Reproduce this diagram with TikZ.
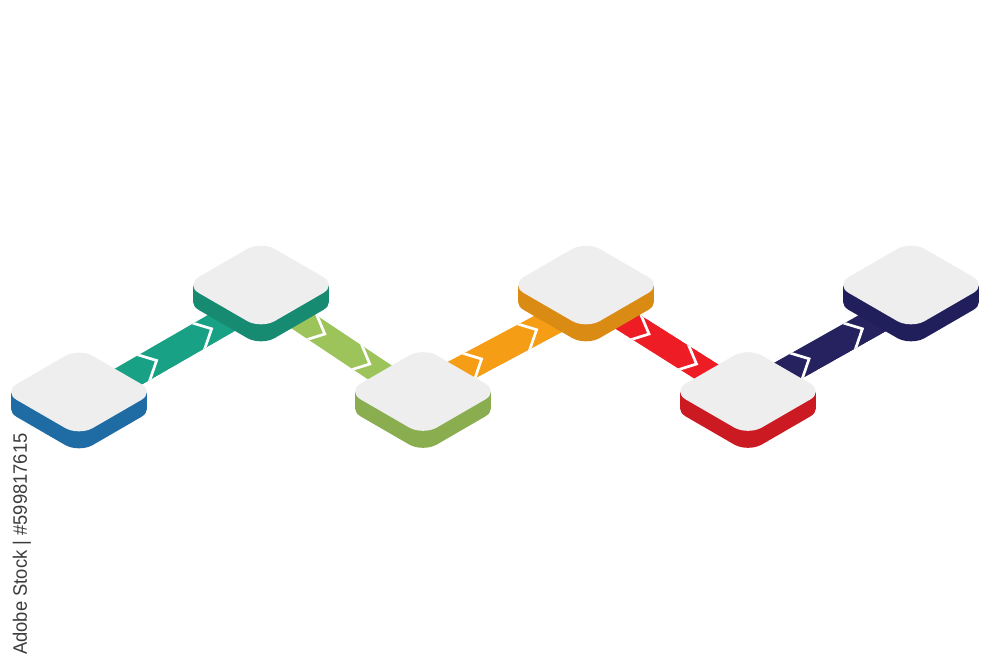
\documentclass[tikz,border=0pt]{standalone}
\usepackage{fontspec}
\usepackage{graphicx}
\setmainfont{Liberation Sans}
\usetikzlibrary{calc}
\definecolor{topF}{HTML}{EEEEEE}
\definecolor{blueS}{HTML}{1F6CA5}
\definecolor{tealB}{HTML}{19A185}
\definecolor{tealS}{HTML}{168B72}
\definecolor{greenB}{HTML}{9DC35B}
\definecolor{greenS}{HTML}{89AD4F}
\definecolor{orangeB}{HTML}{F59D15}
\definecolor{orangeS}{HTML}{DA8B13}
\definecolor{redB}{HTML}{EE1D25}
\definecolor{redS}{HTML}{CC1A22}
\definecolor{navyB}{HTML}{25225F}
\definecolor{navyS}{HTML}{211E5C}
\definecolor{stampgray}{HTML}{3C3C3C}
\tikzset{
  tileside/.style={fill=#1, draw=none, rounded corners=0.48cm},
  tiletop/.style={fill=topF, draw=none, rounded corners=0.48cm},
  bandbody/.style={fill=#1, draw=none},
  chev/.style={draw=white, line width=2.3pt, miter limit=10},
  stamp/.style={font=\fontsize{16.6}{17}\selectfont, text=stampgray, rotate=90, inner sep=0pt}
}
\newcommand\isotile[2]{%
  \foreach \k in {2,...,17}{%
    \fill[tileside=#2] ($(#1)+(0,\k-44)$) -- ++(76,44) -- ++(-76,44) -- ++(-76,-44) -- cycle;}
  \fill[tiletop] ($(#1)+(0,-44)$) -- ++(76,44) -- ++(-76,44) -- ++(-76,-44) -- cycle;
}
\newcommand\isoband[7]{%
  \coordinate (S) at ($(#2)!#4!(#3)$);
  \coordinate (E) at ($(#2)!#5!(#3)$);
  \begin{scope}
    \path[clip] ($(S)-(#6)$) -- ($(E)-(#6)$) -- ($(E)+(#6)$) -- ($(S)+(#6)$) -- cycle;
    \fill[bandbody=#1] ($(S)-(#6)$) -- ($(E)-(#6)$) -- ($(E)+(#6)$) -- ($(S)+(#6)$) -- cycle;
    \foreach \c in {#2,#3}{%
      \coordinate (tip) at ($(\c)+(#7)$);
      \coordinate (pa) at ($(\c)-(#6)$);
      \coordinate (pb) at ($(\c)+(#6)$);
      \draw[chev] ($(tip)!1.3!(pa)$) -- (tip) -- ($(tip)!1.3!(pb)$);
    }
  \end{scope}
}
\begin{document}
\begin{tikzpicture}[x=0.03cm,y=-0.03cm]
\useasboundingbox (0,0) rectangle (1000,667);
\fill[white] (0,0) rectangle (1000,667);
% tile centres
\coordinate (T1) at (79,392);
\coordinate (T2) at (261,285);
\coordinate (T3) at (423,391.5);
\coordinate (T4) at (586,285);
\coordinate (T5) at (748,391.5);
\coordinate (T6) at (911,285);
% chevron centres
\coordinate (c11) at (144.2,367.5);
\coordinate (c12) at (199.2,335.8);
\coordinate (c21) at (312.5,327.5);
\coordinate (c22) at (357.5,357.5);
\coordinate (c31) at (469.2,366);
\coordinate (c32) at (524.2,336.7);
\coordinate (c41) at (636.7,327.5);
\coordinate (c42) at (684.2,357.5);
\coordinate (c51) at (796.7,365.8);
\coordinate (c52) at (850,335.8);
% connecting bands
\isoband{tealB}{c11}{c12}{-0.89}{1.83}{5.7,12.5}{12.4,-7}
\isoband{greenB}{c21}{c22}{-0.99}{2.28}{-4.6,11.8}{12.3,6.5}
\isoband{orangeB}{c31}{c32}{-0.713}{1.924}{5.7,12.5}{12.4,-7}
\isoband{redB}{c41}{c42}{-0.878}{2.17}{-4.6,11.8}{12.3,6.5}
\isoband{navyB}{c51}{c52}{-0.782}{1.936}{5.7,12.5}{12.4,-7}
% tiles
\isotile{T1}{blueS}
\isotile{T2}{tealS}
\isotile{T3}{greenS}
\isotile{T4}{orangeS}
\isotile{T5}{redS}
\isotile{T6}{navyS}
% vertical stock label
\node[stamp] (stamp) at (22,544) {\scalebox{0.945}[1]{Adobe Stock | \#599817615}};
\end{tikzpicture}
\end{document}
